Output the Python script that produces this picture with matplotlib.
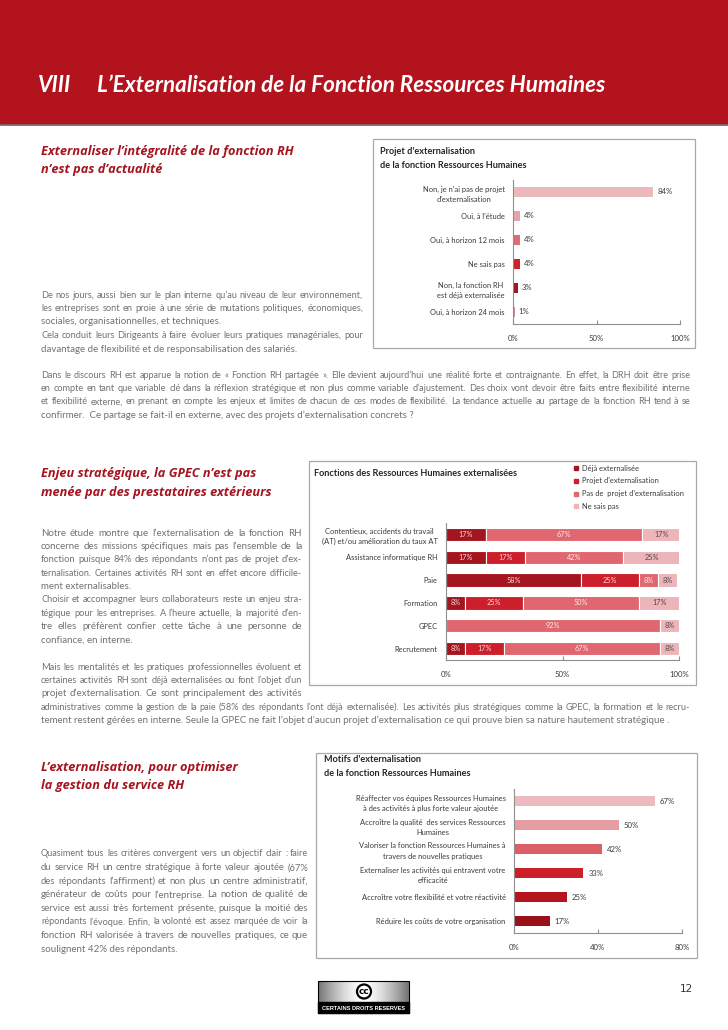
import numpy as np
import matplotlib
matplotlib.use("Agg")
import matplotlib.pyplot as plt
from matplotlib.patches import Rectangle, Circle

# ---- data -------------------------------------------------------------
c1_labels = ["Non, je n'ai pas de projet\nd'externalisation", "Oui, à l'étude",
             "Oui, à horizon 12 mois", "Ne sais pas",
             "Non, la fonction RH\nest déjà externalisée", "Oui, à horizon 24 mois"]
c1_values = [84, 4, 4, 4, 3, 1]
c1_colors = ["#EBB8BC", "#E8A3A8", "#DE6A72", "#CF202B", "#A5131D", "#C98A8E"]
c1_ticks = [0, 50, 100]

c2_cats = ["Contentieux, accidents du travail\n(AT) et/ou amélioration du taux AT",
           "Assistance informatique RH", "Paie", "Formation", "GPEC", "Recrutement"]
c2_series = ["Déjà externalisée", "Projet d'externalisation",
             "Pas de  projet d'externalisation", "Ne sais pas"]
c2_deja = [17, 17, 58, 8, 0, 8]
c2_projet = [0, 17, 25, 25, 0, 17]
c2_pas = [67, 42, 8, 50, 92, 67]
c2_nsp = [17, 25, 8, 17, 8, 8]
c2_colors = ["#A5151F", "#CD1F2B", "#E0676F", "#EDB4B9"]
c2_ticks = [0, 50, 100]

c3_labels = ["Réaffecter vos équipes Ressources Humaines\nà des activités à plus forte valeur ajoutée",
             "Accroître la qualité  des services Ressources\nHumaines",
             "Valoriser la fonction Ressources Humaines à\ntravers de nouvelles pratiques",
             "Externaliser les activités qui entravent votre\nefficacité",
             "Accroître votre flexibilité et votre réactivité",
             "Réduire les coûts de votre organisation"]
c3_values = [67, 50, 42, 33, 25, 17]
c3_colors = ["#EDBBBF", "#E59DA2", "#DC5F67", "#CC1F2A", "#B5151F", "#9A111A"]
c3_ticks = [0, 40, 80]

# ---- page text ----------------------------------------------------------
head1 = ["Externaliser l’intégralité de la fonction RH", "n’est pas d’actualité"]
body1 = [["De nos jours, aussi bien sur le plan interne qu’au niveau de leur environnement,",
          "les entreprises sont en proie à une série de mutations politiques, économiques,",
          "sociales, organisationnelles, et techniques."],
         ["Cela conduit leurs Dirigeants à faire évoluer leurs pratiques managériales, pour",
          "davantage de flexibilité et de responsabilisation des salariés."]]
body_wide = [["Dans le discours RH est apparue la notion de « Fonction RH partagée ». Elle devient aujourd’hui une réalité forte et  contraignante. En effet, la DRH doit être prise",
              "en compte en tant que variable clé dans la réflexion stratégique et non plus comme variable d’ajustement. Des choix vont devoir être faits entre flexibilité interne",
              "et flexibilité externe, en prenant en compte les enjeux et limites de chacun de ces modes de flexibilité.  La tendance actuelle au partage de la fonction RH tend à se",
              "confirmer.  Ce partage se fait-il en externe, avec des projets d’externalisation concrets ?"]]
head2 = ["Enjeu stratégique, la GPEC n’est pas", "menée par des prestataires extérieurs"]
body2 = [["Notre étude montre que l’externalisation de la fonction RH",
          "concerne des missions spécifiques mais pas l’ensemble de la",
          "fonction puisque 84% des répondants n’ont pas de projet d’ex-",
          "ternalisation. Certaines activités RH sont en effet encore difficile-",
          "ment externalisables."],
         ["Choisir et accompagner leurs collaborateurs reste un enjeu stra-",
          "tégique pour les entreprises. A l’heure actuelle, la majorité d’en-",
          "tre elles préfèrent confier cette tâche à une personne de",
          "confiance, en interne."],
         [""],
         ["Mais les mentalités et les pratiques professionnelles évoluent et",
          "certaines activités RH sont déjà externalisées ou font l’objet d’un",
          "projet d’externalisation. Ce sont principalement des activités",
          "administratives comme la gestion de la paie (58% des répondants l’ont déjà externalisée). Les activités plus stratégiques comme la GPEC, la formation et le recru-",
          "tement restent gérées en interne. Seule la GPEC ne fait l’objet d’aucun projet d’externalisation ce qui prouve bien sa nature hautement stratégique ."]]
head3 = ["L’externalisation, pour optimiser", "la gestion du service RH"]
body3 = [["Quasiment tous les critères convergent vers un objectif clair : faire",
          "du service RH un centre stratégique à forte valeur ajoutée  (67%",
          "des répondants l’affirment) et non plus un centre administratif,",
          "générateur de coûts pour l’entreprise. La notion de qualité de",
          "service est aussi très fortement présente, puisque la moitié des",
          "répondants l’évoque. Enfin, la volonté est assez marquée de voir la",
          "fonction RH valorisée à travers de nouvelles pratiques, ce que",
          "soulignent 42% des répondants."]]

# ---- page ---------------------------------------------------------------
W, H = 728, 1030
RED = "#B3131D"
HRED = "#A5141F"
GREY = "#727272"
BODY_FONT = "Lato"
HEAD_FONT = "Open Sans"
BODY_SIZE = 7.0

fig = plt.figure(figsize=(W / 100, H / 100), dpi=100)
pg = fig.add_axes([0, 0, 1, 1])
pg.axis("off")
renderer = fig.canvas.get_renderer()

pg.add_patch(Rectangle((0, 0), W, 124, color=RED, zorder=0))
pg.plot([0, W], [124.5, 124.5], color="#7a6a6a", lw=1.2)
pg.text(38, 86, "VIII", color="white", fontsize=16, fontweight="bold",
        fontstyle="italic", family=BODY_FONT, va="center")
pg.text(97, 86, "L’Externalisation de la Fonction Ressources Humaines", color="white",
        fontsize=16.2, fontweight="bold", fontstyle="italic", family=BODY_FONT, va="center")


def heading(lines, y0, dy):
    for k, s in enumerate(lines):
        pg.text(41, y0 + k * dy, s, color=HRED, fontsize=9.2, fontweight="bold",
                fontstyle="italic", family=HEAD_FONT, va="center")


def text_width(s, size):
    t = pg.text(0, 0, s, fontsize=size, family=BODY_FONT)
    w = t.get_window_extent(renderer).width
    t.remove()
    return w


def paragraph(paras, x0, right, y0, dy):
    k = 0
    for p in paras:
        for j, s in enumerate(p):
            y = y0 + k * dy
            last = j == len(p) - 1
            words = s.split()
            if last or len(words) < 2:
                pg.text(x0, y, s, color=GREY, fontsize=BODY_SIZE, family=BODY_FONT,
                        va="center")
            else:
                # shrink a dense line a little so that it still fits its column
                size = min(BODY_SIZE, 10 * (right(k) - x0) / text_width(s, 10) * 0.99)
                objs = [pg.text(0, y, w, color=GREY, fontsize=size, family=BODY_FONT,
                                va="center") for w in words]
                widths = [o.get_window_extent(renderer).width for o in objs]
                gap = (right(k) - x0 - sum(widths)) / (len(words) - 1)
                x = x0
                for o, w in zip(objs, widths):
                    o.set_x(x)
                    x += w + gap
            k += 1


heading(head1, 152, 17)
heading(head2, 473, 19.5)
heading(head3, 768, 18)
paragraph(body1, 41, lambda k: 363, 295, 13.5)
paragraph(body_wide, 41, lambda k: 690, 375, 13.4)
paragraph(body2, 41, lambda k: 690 if k == 13 else 302, 533, 13.4)
paragraph(body3, 41, lambda k: 308, 854, 13.6)


def frame(x0, y0, x1, y1):
    pg.add_patch(Rectangle((x0, y0), x1 - x0, y1 - y0, fill=False, ec="#A8A8A8", lw=0.9))


def chart_axes(x0, y0, x1, y1):
    ax = fig.add_axes([x0 / W, 1 - y1 / H, (x1 - x0) / W, (y1 - y0) / H])
    ax.set_facecolor("none")
    for s in ["top", "right"]:
        ax.spines[s].set_visible(False)
    for s in ["left", "bottom"]:
        ax.spines[s].set_color("#8F8F8F")
        ax.spines[s].set_linewidth(0.8)
    ax.tick_params(axis="y", length=0, pad=6, labelsize=5.4, labelcolor="#3A3A3A")
    ax.tick_params(axis="x", direction="in", length=3, color="#8F8F8F", pad=8,
                   labelsize=5.6, labelcolor="#3A3A3A")
    return ax


def style_ticks(ax, ticks):
    ax.set_xticks(ticks)
    ax.set_xticklabels([f"{t}%" for t in ticks], family=BODY_FONT)
    for lab in ax.get_yticklabels():
        lab.set_family(BODY_FONT)
        lab.set_multialignment("center")
        lab.set_linespacing(1.55)


def chart_title(x, y, lines):
    for k, s in enumerate(lines):
        pg.text(x, y + k * 14, s, fontsize=6.6, fontweight="bold", color="#262626",
                family=BODY_FONT, va="center")


# chart 1
frame(373, 139, 695, 348)
chart_title(380, 152, ["Projet d'externalisation", "de la fonction Ressources Humaines"])
ax1 = chart_axes(513, 180, 680, 324)
y1 = np.arange(len(c1_values))
ax1.barh(y1, c1_values, height=0.38, color=c1_colors)
for yy, v in zip(y1, c1_values):
    ax1.annotate(f"{v}%", (v, yy), xytext=(4, 0), textcoords="offset pixels",
                 va="center", fontsize=5.6, color="#3A3A3A", family=BODY_FONT)
ax1.set_xlim(0, 100)
ax1.set_ylim(len(c1_values) - 0.5, -0.5)
ax1.set_yticks(y1)
ax1.set_yticklabels(c1_labels)
style_ticks(ax1, c1_ticks)

# chart 2
frame(309, 461, 696, 685)
chart_title(314, 474, ["Fonctions des Ressources Humaines externalisées"])
for k, (name, col) in enumerate(zip(c2_series, c2_colors)):
    yy = 468 + k * 12.8
    pg.add_patch(Rectangle((574, yy - 2), 4, 4, color=col))
    pg.text(582, yy, name, fontsize=5.4, color="#3A3A3A", family=BODY_FONT, va="center")
ax2 = chart_axes(446, 523, 679, 660)
y2 = np.arange(len(c2_cats))
left = np.zeros(len(c2_cats))
for vals, col, tc in zip([c2_deja, c2_projet, c2_pas, c2_nsp], c2_colors,
                         ["#F6D8DA", "#F6D8DA", "#FBEAEA", "#4A4A4A"]):
    vals = np.array(vals, dtype=float)
    ax2.barh(y2, vals, left=left, height=0.58, color=col, edgecolor="white", linewidth=0.8)
    for yy, l, v in zip(y2, left, vals):
        if v > 0:
            ax2.text(l + v / 2, yy, f"{int(v)}%", ha="center", va="center", fontsize=5.2,
                     color=tc, family=BODY_FONT)
    left += vals
ax2.set_xlim(0, 100)
ax2.set_ylim(len(c2_cats) - 0.5, -0.5)
ax2.set_yticks(y2)
ax2.set_yticklabels(c2_cats)
style_ticks(ax2, c2_ticks)

# chart 3
frame(316, 753, 697, 958)
chart_title(324, 760, ["Motifs d'externalisation", "de la fonction Ressources Humaines"])
ax3 = chart_axes(514, 789, 682, 933)
y3 = np.arange(len(c3_values))
ax3.barh(y3, c3_values, height=0.38, color=c3_colors)
for yy, v in zip(y3, c3_values):
    ax3.annotate(f"{v}%", (v, yy), xytext=(5, 0), textcoords="offset pixels",
                 va="center", fontsize=5.6, color="#3A3A3A", family=BODY_FONT)
ax3.set_xlim(0, 80)
ax3.set_ylim(len(c3_values) - 0.5, -0.5)
ax3.set_yticks(y3)
ax3.set_yticklabels(c3_labels)
style_ticks(ax3, c3_ticks)

# footer: licence badge and page number
grad = 1 - 0.55 * np.abs(np.linspace(-1, 1, 200)) ** 1.5
pg.imshow(grad[None, :], cmap="gray", vmin=0, vmax=1, extent=(318, 409, 1003, 981),
          aspect="auto", zorder=1)
pg.add_patch(Rectangle((318, 1002), 91, 11, color="black", zorder=2))
pg.add_patch(Rectangle((318, 981), 91, 32, fill=False, ec="black", lw=0.8, zorder=3))
pg.add_patch(Circle((364, 991.5), 7, fc="white", ec="black", lw=1.6, zorder=3))
pg.text(364, 991.5, "cc", ha="center", va="center", fontsize=6.5, fontweight="bold",
        color="black", family="DejaVu Sans", zorder=4)
pg.text(363.5, 1008, "CERTAINS DROITS RESERVES", ha="center", va="center", fontsize=4.1,
        fontweight="bold", color="white", family="Liberation Sans", zorder=4)
pg.text(693, 989, "12", ha="right", va="center", fontsize=7.5, color="#333333",
        family="DejaVu Sans")

pg.set_xlim(0, W)
pg.set_ylim(H, 0)
fig.savefig("out.png", dpi=100)
